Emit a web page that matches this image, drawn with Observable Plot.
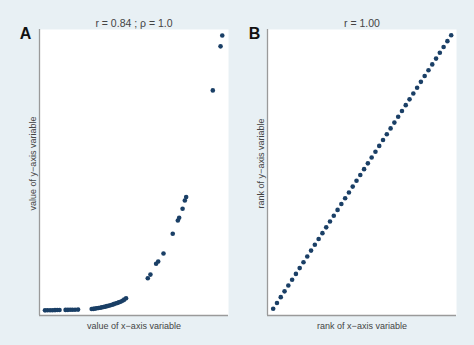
<!DOCTYPE html>
<html><head><meta charset="utf-8">
<script src="https://cdn.jsdelivr.net/npm/d3@7"></script>
<script src="https://cdn.jsdelivr.net/npm/@observablehq/plot@0.6"></script>
<style>
body{margin:0;background:#e8f0f4;}
#fig{position:relative;width:474px;height:345px;background:#e8f0f4;overflow:hidden;font-family:"Liberation Sans",Arial,sans-serif;}
#fig svg{position:absolute;top:0;}
</style></head><body><div id="fig"></div>
<script>
// Panel A: raw values (arbitrary units)
const xValues = [2.9, 4.2, 5.6, 6.9, 8.2, 9.4, 10.6, 13.8, 15.0, 16.2, 17.4, 18.8, 20.4,
  27.6, 28.5, 29.4, 30.3, 31.2, 32.1, 33.0, 33.9, 34.8, 35.7, 36.6, 37.5, 38.4, 39.3, 40.2, 41.1, 42.0, 42.9, 43.9, 44.8, 45.8,
  57.3, 58.7, 61.7, 62.8, 65.6, 70.5, 73.2, 73.9, 75.7, 76.9, 77.6,
  91.7, 95.8, 96.7];
const yValues = [1.80, 1.82, 1.84, 1.86, 1.88, 1.90, 1.92, 1.95, 1.97, 1.99, 2.01, 2.03, 2.06,
  2.25, 2.33, 2.42, 2.52, 2.62, 2.73, 2.85, 2.98, 3.12, 3.27, 3.43, 3.60, 3.78, 3.97, 4.17, 4.38, 4.60, 4.83, 5.15, 5.55, 6.05,
  13.0, 14.3, 18.1, 18.9, 21.7, 28.6, 33.2, 34.2, 37.3, 40.2, 41.4,
  78.7, 94.1, 97.9];
const panelLetters = ["A", "B"];
const titles = ["r = 0.84 ; ρ = 1.0", "r = 1.00"];
const xLabels = ["value of x\u2212axis variable", "rank of x\u2212axis variable"];
const yLabels = ["value of y\u2212axis variable", "rank of y\u2212axis variable"];
const valueDomainX = [0, 100], valueDomainY = [0, 100];
const rankDomainX = [-0.5, 49.4], rankDomainY = [-0.15, 49];

function ranks(arr) {
  const idx = arr.map((v, i) => i).sort((a, b) => arr[a] - arr[b]);
  const r = new Array(arr.length);
  idx.forEach((i, k) => r[i] = k + 1);
  return r;
}
const xRanks = ranks(xValues), yRanks = ranks(yValues);

const dotColor = "#1a3f66", axisColor = "#9a9a9a", textColor = "#444";

function panel({data, xd, yd, letter, title, xl, yl, ml, mr, ldx}) {
  return Plot.plot({
    width: 237, height: 345,
    marginLeft: ml, marginRight: mr, marginTop: 29, marginBottom: 30,
    style: {background: "transparent", fontFamily: "'Liberation Sans', Arial, sans-serif"},
    x: {domain: xd, axis: null},
    y: {domain: yd, axis: null},
    marks: [
      Plot.frame({fill: "white", stroke: null}),
      Plot.ruleX([xd[0]], {stroke: axisColor, strokeWidth: 1.3}),
      Plot.ruleY([yd[0]], {stroke: axisColor, strokeWidth: 1.3}),
      Plot.dot(data, {x: "x", y: "y", r: 2.3, fill: dotColor, stroke: null}),
      Plot.text([title], {frameAnchor: "top", lineAnchor: "bottom", dy: -3, fontSize: 10.5, fill: textColor}),
      Plot.text([xl], {frameAnchor: "bottom", lineAnchor: "bottom", dy: 13.5, fontSize: 9, fill: textColor}),
      Plot.text([yl], {frameAnchor: "left", textAnchor: "middle", lineAnchor: "middle", dx: -6.5, dy: -9, rotate: -90, fontSize: 9, fill: textColor}),
      Plot.text([letter], {frameAnchor: "top-left", textAnchor: "start", lineAnchor: "top", dx: ldx, dy: -1.5, fontSize: 16, fontWeight: "bold", fill: "#111"})
    ]
  });
}

const fig = document.getElementById("fig");
const a = panel({data: xValues.map((x, i) => ({x, y: yValues[i]})), xd: valueDomainX, yd: valueDomainY,
  letter: panelLetters[0], title: titles[0], xl: xLabels[0], yl: yLabels[0], ml: 39, mr: 9, ldx: -19.7});
const b = panel({data: xRanks.map((x, i) => ({x, y: yRanks[i]})), xd: rankDomainX, yd: rankDomainY,
  letter: panelLetters[1], title: titles[1], xl: xLabels[1], yl: yLabels[1], ml: 30, mr: 18, ldx: -18.7});
a.style.left = "0px";
b.style.left = "237px";
fig.appendChild(a);
fig.appendChild(b);
</script></body></html>
